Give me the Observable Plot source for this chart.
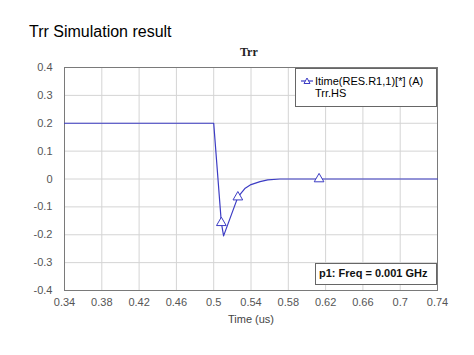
<!DOCTYPE html>
<html>
<head>
<meta charset="utf-8">
<script src="https://cdn.jsdelivr.net/npm/d3@7"></script>
<script src="https://cdn.jsdelivr.net/npm/@observablehq/plot@0.6"></script>
<style>
  html, body { margin: 0; padding: 0; background: #fff; }
  #wrap { position: relative; width: 474px; height: 355px; overflow: hidden; font-family: Arial, "Liberation Sans", sans-serif; }
  #wrap svg { position: absolute; left: 0; top: 0; }
  .t { position: absolute; white-space: nowrap; }
</style>
</head>
<body>
<div id="wrap">
  <div class="t" style="left:29px;top:23px;font-size:16px;color:#000;">Trr Simulation result</div>
  <div class="t" style="left:240px;top:45px;font-size:12px;font-weight:bold;font-family:'Liberation Serif','DejaVu Serif',serif;color:#222;">Trr</div>
  <div class="t" id="legend" style="left:295px;top:68px;width:142px;height:39px;border:1px solid #666;background:#fff;box-sizing:border-box;"></div>
  <div class="t" id="note" style="left:315px;top:263px;width:122px;height:22px;border:1px solid #666;background:#fff;box-sizing:border-box;"></div>
</div>
<script>
const times = [0.34, 0.50, 0.5082, 0.5106, 0.5259, 0.5338, 0.540, 0.5497, 0.558, 0.571, 0.74];
const values = [0.2, 0.2, -0.157, -0.204, -0.065, -0.033, -0.020, -0.0096, -0.003, 0, 0];
const markerTimes = [0.5082, 0.5259, 0.613];
const markerValues = [-0.157, -0.065, 0];
const xTicks = [0.34, 0.38, 0.42, 0.46, 0.5, 0.54, 0.58, 0.62, 0.66, 0.7, 0.74];
const xTickLabels = ["0.34","0.38","0.42","0.46","0.5","0.54","0.58","0.62","0.66","0.7","0.74"];
const yTicks = [-0.4, -0.3, -0.2, -0.1, 0, 0.1, 0.2, 0.3, 0.4];
const yTickLabels = ["-0.4","-0.3","-0.2","-0.1","0","0.1","0.2","0.3","0.4"];
const seriesName = "Itime(RES.R1,1)[*] (A)";
const seriesSub = "Trr.HS";
const noteText = "p1: Freq = 0.001 GHz";
const xLabel = "Time (us)";

const lineColor = "#3c3cc4";
const lineData = times.map((t, i) => ({t, v: values[i]}));
const markerData = markerTimes.map((t, i) => ({t, v: markerValues[i]}));
const fx = d => xTickLabels[xTicks.findIndex(v => Math.abs(v - d) < 1e-9)];
const fy = d => yTickLabels[yTicks.findIndex(v => Math.abs(v - d) < 1e-9)];

const chart = Plot.plot({
  width: 474,
  height: 355,
  marginLeft: 64,
  marginRight: 37,
  marginTop: 67,
  marginBottom: 65,
  style: {fontFamily: "Arial, 'Liberation Sans', sans-serif", fontSize: "11px", background: "transparent", overflow: "visible"},
  x: {domain: [0.34, 0.74], ticks: xTicks, tickFormat: fx, label: null},
  y: {domain: [-0.4, 0.4], ticks: yTicks, tickFormat: fy, label: null},
  marks: [
    Plot.gridX(xTicks, {stroke: "#d4d4d4", strokeOpacity: 1}),
    Plot.gridY(yTicks, {stroke: "#d4d4d4", strokeOpacity: 1}),
    Plot.frame({stroke: "#7a7a7a"}),
    Plot.axisX(xTicks, {tickSize: 0, tickPadding: 8, fill: "#555", tickFormat: fx, label: null, fontSize: 11}),
    Plot.axisY(yTicks, {tickSize: 0, tickPadding: 12, fill: "#555", tickFormat: fy, label: null, fontSize: 11}),
    Plot.line(lineData, {x: "t", y: "v", stroke: lineColor, strokeWidth: 1.2}),
    Plot.dot(markerData, {x: "t", y: "v", symbol: "triangle", r: 3.6, stroke: lineColor, fill: "white", strokeWidth: 1}),
    Plot.text([xLabel], {frameAnchor: "bottom", dy: 32, text: d => d, fill: "#444", fontSize: 11})
  ]
});
const wrap = document.getElementById("wrap");
wrap.insertBefore(chart, document.getElementById("legend"));

document.getElementById("legend").innerHTML =
  '<svg width="14" height="12" style="position:absolute;left:5px;top:6px;overflow:visible">' +
  '<line x1="0" y1="6" x2="12" y2="6" stroke="' + lineColor + '" stroke-width="1.2"/>' +
  '<path d="M6,3 L9,8.5 L3,8.5 Z" fill="white" stroke="' + lineColor + '" stroke-width="1"/></svg>' +
  '<div style="position:absolute;left:19px;top:6px;font-size:11px;line-height:13px;color:#000;">' + seriesName + '</div>' +
  '<div style="position:absolute;left:19px;top:18px;font-size:11px;line-height:13px;color:#000;">' + seriesSub + '</div>';
document.getElementById("note").innerHTML =
  '<div style="position:absolute;left:3px;top:3px;font-size:11px;line-height:13px;font-weight:bold;color:#111;">' + noteText + '</div>';
</script>
</body>
</html>
